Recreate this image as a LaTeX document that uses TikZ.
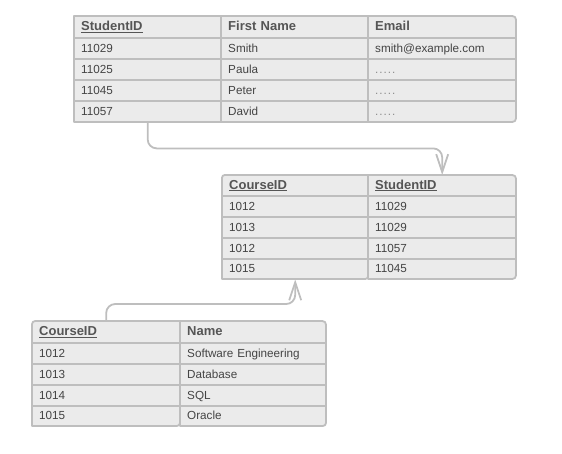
\documentclass[tikz,border=0pt]{standalone}
\usepackage{fontspec}
\setmainfont{Liberation Sans}
\usetikzlibrary{arrows.meta}
\definecolor{framec}{RGB}{190,190,190}
\definecolor{fillc}{RGB}{235,235,235}
\definecolor{txtc}{RGB}{68,68,68}
\definecolor{hdc}{RGB}{85,85,85}
\definecolor{dotc}{RGB}{140,140,140}
\newcommand\colbox[8]{%
  \filldraw[frame] (#1,#2+#5) .. controls (#1,#2) .. (#1+#5,#2)
    -- (#3-#6,#2) .. controls (#3,#2) .. (#3,#2+#6)
    -- (#3,#4-#7) .. controls (#3,#4) .. (#3-#7,#4)
    -- (#1+#8,#4) .. controls (#1,#4) .. (#1,#4-#8) -- cycle;}
\newcommand\celldots{{\color{dotc}.\kern1pt.\kern1pt.\kern1pt.\kern1pt.}}
\tikzset{
  frame/.style={draw=framec, fill=fillc, line width=1.8pt, line join=round},
  rowline/.style={draw=framec, line width=1.8pt},
  cellbase/.style={anchor=north west, inner xsep=7pt, inner ysep=0pt, align=left,
    text height=1.6ex, text depth=.3ex},
  cell/.style={cellbase, font=\fontsize{11.7}{13}\selectfont, text=txtc},
  hd/.style={cellbase, font=\fontsize{13}{15}\selectfont\bfseries, text=hdc},
  conn/.style={draw=framec, line width=1.8pt, rounded corners=9pt,
    -{Straight Barb[length=18pt,width=12pt,line width=1.8pt]}},
}
\begin{document}
\begin{tikzpicture}[x=1pt,y=-1pt]
\useasboundingbox (0,0) rectangle (562,453);
% ---------- Table 1 (Student) ----------
\colbox{74}{16}{221}{122}{0}{0}{0}{0}
\colbox{221}{16}{368}{122}{0}{0}{0}{0}
\colbox{368}{16}{516}{122}{0}{8}{8}{0}
\foreach \y in {38,59,80,101} \draw[rowline] (74,\y) -- (516,\y);
\node[hd, text width=133pt, minimum height=22pt] (t1c1r0) at (74,16) {\underline{StudentID}};
\node[hd, text width=133pt, minimum height=22pt] (t1c2r0) at (221,16) {First Name};
\node[hd, text width=134pt, minimum height=22pt] (t1c3r0) at (368,16) {Email};
\node[cell, text width=133pt, minimum height=21pt] (t1c1r1) at (74,38) {11029};
\node[cell, text width=133pt, minimum height=21pt] (t1c2r1) at (221,38) {Smith};
\node[cell, text width=134pt, minimum height=21pt] (t1c3r1) at (368,38) {smith@example.com};
\node[cell, text width=133pt, minimum height=21pt] (t1c1r2) at (74,59) {11025};
\node[cell, text width=133pt, minimum height=21pt] (t1c2r2) at (221,59) {Paula};
\node[cell, text width=134pt, minimum height=21pt] (t1c3r2) at (368,59) {\celldots};
\node[cell, text width=133pt, minimum height=21pt] (t1c1r3) at (74,80) {11045};
\node[cell, text width=133pt, minimum height=21pt] (t1c2r3) at (221,80) {Peter};
\node[cell, text width=134pt, minimum height=21pt] (t1c3r3) at (368,80) {\celldots};
\node[cell, text width=133pt, minimum height=21pt] (t1c1r4) at (74,101) {11057};
\node[cell, text width=133pt, minimum height=21pt] (t1c2r4) at (221,101) {David};
\node[cell, text width=134pt, minimum height=21pt] (t1c3r4) at (368,101) {\celldots};
% ---------- Table 2 (Enrollment) ----------
\colbox{222}{175}{368}{279}{6}{0}{6}{0}
\colbox{368}{175}{516}{279}{0}{8}{8}{0}
\foreach \y in {196,217,238,259} \draw[rowline] (222,\y) -- (516,\y);
\node[hd, text width=132pt, minimum height=21pt] (t2c1r0) at (222,175) {\underline{CourseID}};
\node[hd, text width=134pt, minimum height=21pt] (t2c2r0) at (368,175) {\underline{StudentID}};
\node[cell, text width=132pt, minimum height=21pt] (t2c1r1) at (222,196) {1012};
\node[cell, text width=134pt, minimum height=21pt] (t2c2r1) at (368,196) {11029};
\node[cell, text width=132pt, minimum height=21pt] (t2c1r2) at (222,217) {1013};
\node[cell, text width=134pt, minimum height=21pt] (t2c2r2) at (368,217) {11029};
\node[cell, text width=132pt, minimum height=21pt] (t2c1r3) at (222,238) {1012};
\node[cell, text width=134pt, minimum height=21pt] (t2c2r3) at (368,238) {11057};
\node[cell, text width=132pt, minimum height=20pt] (t2c1r4) at (222,259) {1015};
\node[cell, text width=134pt, minimum height=20pt] (t2c2r4) at (368,259) {11045};
% ---------- Table 3 (Course) ----------
\colbox{32}{321}{180}{426}{7}{0}{7}{0}
\colbox{180}{321}{326}{426}{0}{8}{7}{0}
\foreach \y in {343,364,385,406} \draw[rowline] (32,\y) -- (326,\y);
\node[hd, text width=134pt, minimum height=22pt] (t3c1r0) at (32,321) {\underline{CourseID}};
\node[hd, text width=132pt, minimum height=22pt] (t3c2r0) at (180,321) {Name};
\node[cell, text width=134pt, minimum height=21pt] (t3c1r1) at (32,343) {1012};
\node[cell, text width=132pt, minimum height=21pt] (t3c2r1) at (180,343) {Software Engineering};
\node[cell, text width=134pt, minimum height=21pt] (t3c1r2) at (32,364) {1013};
\node[cell, text width=132pt, minimum height=21pt] (t3c2r2) at (180,364) {Database};
\node[cell, text width=134pt, minimum height=21pt] (t3c1r3) at (32,385) {1014};
\node[cell, text width=132pt, minimum height=21pt] (t3c2r3) at (180,385) {SQL};
\node[cell, text width=134pt, minimum height=20pt] (t3c1r4) at (32,406) {1015};
\node[cell, text width=132pt, minimum height=20pt] (t3c2r4) at (180,406) {Oracle};
% ---------- Connectors ----------
\draw[conn] (t1c1r4.south) -- ++(0,26) -| (t2c2r0.north);
\draw[conn] (t3c1r0.north) -- ++(0,-17) -| (t2c1r4.south);
\end{tikzpicture}
\end{document}
